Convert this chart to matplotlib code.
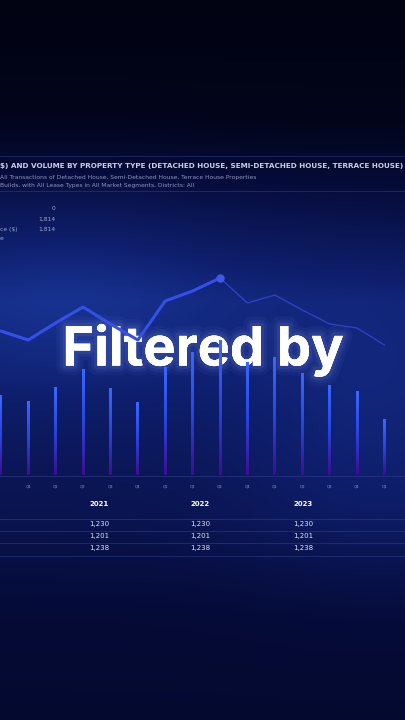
import numpy as np
import matplotlib
matplotlib.use("Agg")
import matplotlib.pyplot as plt
from matplotlib.colors import LinearSegmentedColormap
import matplotlib.patheffects as pe

quarters = ["Q3","Q4","Q1","Q2","Q3","Q4","Q1","Q2","Q3","Q4","Q1","Q2","Q3","Q4","Q1"]
volume = [80, 74, 88, 106, 87, 73, 108, 123, 135, 113, 118, 102, 90, 84, 56]
price = [144, 135, 152, 168, 151, 135, 174, 184, 197, 172, 180, 165, 151, 147, 130]
years = ["2021", "2022", "2023"]
row1 = ["1,230", "1,230", "1,230"]
row2 = ["1,201", "1,201", "1,201"]
row3 = ["1,238", "1,238", "1,238"]

W, H = 405, 720
fig = plt.figure(figsize=(4.05, 7.2), dpi=100)
bg = fig.add_axes([0, 0, 1, 1])
bg.set_xlim(0, W); bg.set_ylim(H, 0); bg.axis("off")
yy, xx = np.mgrid[0:H, 0:W]
# vertical profile: black top, brighter band 230-480, fade to navy at bottom
v = np.interp(yy, [0, 120, 200, 300, 420, 520, 620, 720], [0.02, 0.08, 0.35, 0.6, 0.5, 0.45, 0.3, 0.25])
hglow = 0.25 * np.exp(-(((xx - 60) / 200.0) ** 2 + ((yy - 300) / 120.0) ** 2))
hglow2 = 0.2 * np.exp(-(((xx - 380) / 150.0) ** 2 + ((yy - 420) / 150.0) ** 2))
base = np.clip(v + hglow + hglow2, 0, 1)
cmap_bg = LinearSegmentedColormap.from_list("bg", ["#010210", "#060c3a", "#0f2070", "#1e40a8"])
bg.imshow(base, cmap=cmap_bg, extent=[0, W, H, 0], aspect="auto", vmin=0, vmax=1)

for y in [155, 190, 475, 518, 530, 542, 555]:
    bg.plot([0, W], [y + 0.5, y + 0.5], color="#3a4a9a", lw=0.6, alpha=0.5)
bg.text(0, 166, "$) AND VOLUME BY PROPERTY TYPE (DETACHED HOUSE, SEMI-DETACHED HOUSE, TERRACE HOUSE)",
        color="#c8cde8", fontsize=5.2, fontweight="bold", va="center")
bg.text(0, 177, "All Transactions of Detached House, Semi-Detached House, Terrace House Properties",
        color="#8e95c0", fontsize=4.3, va="center")
bg.text(0, 186, "Builds, with All Lease Types in All Market Segments, Districts: All",
        color="#8e95c0", fontsize=4.3, va="center")
for y, l, v_ in [(209, "", "0"), (219, "", "1,814"), (229, "ce ($)", "1,814"), (238, "e", "")]:
    bg.text(0, y, l, color="#a0a6cc", fontsize=4.3, va="center")
    bg.text(55, y, v_, color="#a0a6cc", fontsize=4.3, va="center", ha="right")

ax = fig.add_axes([0, 1 - 475 / H, 1, 225 / H])
ax.set_facecolor("none")
x = np.arange(len(volume))
ax.set_xlim(-0.03, 14.75)
ax.set_ylim(0, 225)
ax.axis("off")
cmap_bar = LinearSegmentedColormap.from_list("bar", ["#3a0f90", "#2a44e0", "#3a68ff"])
grad = np.linspace(0, 1, 100).reshape(-1, 1)
bars = ax.bar(x, volume, width=0.1, color="none")
for b in bars:
    im = ax.imshow(grad, cmap=cmap_bar, origin="lower", aspect="auto",
                   extent=[b.get_x(), b.get_x() + b.get_width(), 0, b.get_height()], zorder=2)
    im.set_clip_path(b)
ax.plot(x[:9], price[:9], color="#3550e8", lw=2.2, zorder=3, solid_capstyle="round")
ax.plot(x[8:], price[8:], color="#2c40c8", lw=1.0, zorder=3)
ax.plot([8], [price[8]], "o", color="#4058e8", ms=5, zorder=4)
for i in range(1, len(quarters)):
    ax.text(x[i], -12, quarters[i], color="#8f96c8", fontsize=2.8, ha="center", va="center")

for cx, yr, a, b2, c in zip([99, 200, 303], years, row1, row2, row3):
    bg.text(cx, 504, yr, color="white", fontsize=5, fontweight="bold", ha="center", va="center")
    bg.text(cx, 524, a, color="#e0e3f5", fontsize=5, ha="center", va="center")
    bg.text(cx, 536, b2, color="#e0e3f5", fontsize=5, ha="center", va="center")
    bg.text(cx, 548, c, color="#e0e3f5", fontsize=5, ha="center", va="center")

glow = [pe.withStroke(linewidth=w, foreground="#8fa4ff", alpha=a) for w, a in [(14, 0.05), (9, 0.07), (5, 0.1)]]
bg.text(203, 350, "Filtered by", color="white", fontsize=39, fontweight="bold",
        ha="center", va="center", family="Inter", path_effects=glow + [pe.Normal()])

fig.savefig("out.png", dpi=100)
